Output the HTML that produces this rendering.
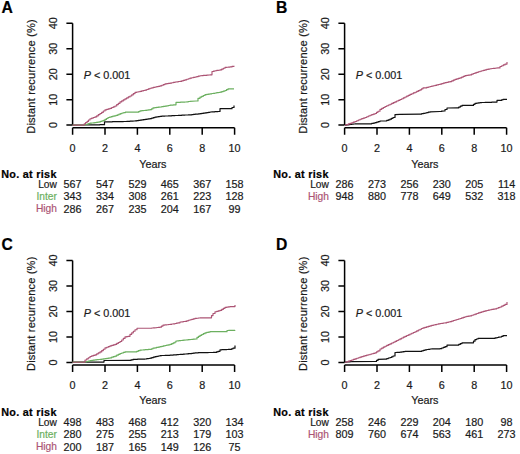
<!DOCTYPE html>
<html><head><meta charset="utf-8"><style>
html,body{margin:0;padding:0;background:#fff;}
svg{display:block;font-family:"Liberation Sans",sans-serif;}
text{stroke-width:0.2px;}
</style></head><body>
<svg width="520" height="454" viewBox="0 0 520 454">
<rect width="520" height="454" fill="#fff"/>
<g transform="translate(0,0)">
<text x="1.6" y="13.1" font-size="15.7" font-weight="bold" fill="#000" stroke="#000">A</text>
<text transform="translate(34.6,76.55) rotate(-90)" text-anchor="middle" font-size="11.1" textLength="114.4" lengthAdjust="spacing" style="stroke-width:0.2px" fill="#1a1a1a" stroke="#1a1a1a">Distant recurrence (%)</text>
<path d="M72.60 23.30V125.10M66.4 125.10H72.60M66.4 99.65H72.60M66.4 74.20H72.60M66.4 48.75H72.60M66.4 23.30H72.60" stroke="#000" stroke-width="1.5" fill="none"/>
<text transform="translate(57,125.10) rotate(-90)" text-anchor="middle" font-size="10.8" fill="#1a1a1a" stroke="#1a1a1a">0</text>
<text transform="translate(57,99.65) rotate(-90)" text-anchor="middle" font-size="10.8" fill="#1a1a1a" stroke="#1a1a1a">10</text>
<text transform="translate(57,74.20) rotate(-90)" text-anchor="middle" font-size="10.8" fill="#1a1a1a" stroke="#1a1a1a">20</text>
<text transform="translate(57,48.75) rotate(-90)" text-anchor="middle" font-size="10.8" fill="#1a1a1a" stroke="#1a1a1a">30</text>
<text transform="translate(57,23.30) rotate(-90)" text-anchor="middle" font-size="10.8" fill="#1a1a1a" stroke="#1a1a1a">40</text>
<path d="M72.60 127.8H234.60M72.60 127.8V134.8M105.00 127.8V134.8M137.40 127.8V134.8M169.80 127.8V134.8M202.20 127.8V134.8M234.60 127.8V134.8" stroke="#000" stroke-width="1.5" fill="none"/>
<text x="72.60" y="152" text-anchor="middle" font-size="10.8" fill="#1a1a1a" stroke="#1a1a1a">0</text>
<text x="105.00" y="152" text-anchor="middle" font-size="10.8" fill="#1a1a1a" stroke="#1a1a1a">2</text>
<text x="137.40" y="152" text-anchor="middle" font-size="10.8" fill="#1a1a1a" stroke="#1a1a1a">4</text>
<text x="169.80" y="152" text-anchor="middle" font-size="10.8" fill="#1a1a1a" stroke="#1a1a1a">6</text>
<text x="202.20" y="152" text-anchor="middle" font-size="10.8" fill="#1a1a1a" stroke="#1a1a1a">8</text>
<text x="234.60" y="152" text-anchor="middle" font-size="10.8" fill="#1a1a1a" stroke="#1a1a1a">10</text>
<text x="152.80" y="168.3" text-anchor="middle" font-size="10.8" fill="#1a1a1a" stroke="#1a1a1a">Years</text>
<text x="83.8" y="79.0" font-size="10.8" fill="#1a1a1a" stroke="#1a1a1a"><tspan font-style="italic">P</tspan> &lt; 0.001</text>
<text x="1.2" y="178.2" font-size="10.8" font-weight="bold" textLength="55.2" lengthAdjust="spacing" fill="#000" stroke="#000">No. at risk</text>
<text x="56.9" y="187.8" text-anchor="end" font-size="10.2" fill="#1a1a1a" stroke="#1a1a1a">Low</text>
<text x="72.60" y="187.9" text-anchor="middle" font-size="10.8" fill="#1a1a1a" stroke="#1a1a1a">567</text>
<text x="105.00" y="187.9" text-anchor="middle" font-size="10.8" fill="#1a1a1a" stroke="#1a1a1a">547</text>
<text x="137.40" y="187.9" text-anchor="middle" font-size="10.8" fill="#1a1a1a" stroke="#1a1a1a">529</text>
<text x="169.80" y="187.9" text-anchor="middle" font-size="10.8" fill="#1a1a1a" stroke="#1a1a1a">465</text>
<text x="202.20" y="187.9" text-anchor="middle" font-size="10.8" fill="#1a1a1a" stroke="#1a1a1a">367</text>
<text x="234.60" y="187.9" text-anchor="middle" font-size="10.8" fill="#1a1a1a" stroke="#1a1a1a">158</text>
<text x="56.9" y="199.9" text-anchor="end" font-size="10.2" fill="#6cb060" stroke="#6cb060">Inter</text>
<text x="72.60" y="200.2" text-anchor="middle" font-size="10.8" fill="#1a1a1a" stroke="#1a1a1a">343</text>
<text x="105.00" y="200.2" text-anchor="middle" font-size="10.8" fill="#1a1a1a" stroke="#1a1a1a">334</text>
<text x="137.40" y="200.2" text-anchor="middle" font-size="10.8" fill="#1a1a1a" stroke="#1a1a1a">308</text>
<text x="169.80" y="200.2" text-anchor="middle" font-size="10.8" fill="#1a1a1a" stroke="#1a1a1a">261</text>
<text x="202.20" y="200.2" text-anchor="middle" font-size="10.8" fill="#1a1a1a" stroke="#1a1a1a">223</text>
<text x="234.60" y="200.2" text-anchor="middle" font-size="10.8" fill="#1a1a1a" stroke="#1a1a1a">128</text>
<text x="56.9" y="212.2" text-anchor="end" font-size="10.2" fill="#ac5474" stroke="#ac5474">High</text>
<text x="72.60" y="212.9" text-anchor="middle" font-size="10.8" fill="#1a1a1a" stroke="#1a1a1a">286</text>
<text x="105.00" y="212.9" text-anchor="middle" font-size="10.8" fill="#1a1a1a" stroke="#1a1a1a">267</text>
<text x="137.40" y="212.9" text-anchor="middle" font-size="10.8" fill="#1a1a1a" stroke="#1a1a1a">235</text>
<text x="169.80" y="212.9" text-anchor="middle" font-size="10.8" fill="#1a1a1a" stroke="#1a1a1a">204</text>
<text x="202.20" y="212.9" text-anchor="middle" font-size="10.8" fill="#1a1a1a" stroke="#1a1a1a">167</text>
<text x="234.60" y="212.9" text-anchor="middle" font-size="10.8" fill="#1a1a1a" stroke="#1a1a1a">99</text>
</g>
<g transform="translate(272,0)">
<text x="4.0" y="13.1" font-size="15.7" font-weight="bold" fill="#000" stroke="#000">B</text>
<text transform="translate(34.6,76.55) rotate(-90)" text-anchor="middle" font-size="11.1" textLength="114.4" lengthAdjust="spacing" style="stroke-width:0.2px" fill="#1a1a1a" stroke="#1a1a1a">Distant recurrence (%)</text>
<path d="M72.60 23.30V125.10M66.4 125.10H72.60M66.4 99.65H72.60M66.4 74.20H72.60M66.4 48.75H72.60M66.4 23.30H72.60" stroke="#000" stroke-width="1.5" fill="none"/>
<text transform="translate(57,125.10) rotate(-90)" text-anchor="middle" font-size="10.8" fill="#1a1a1a" stroke="#1a1a1a">0</text>
<text transform="translate(57,99.65) rotate(-90)" text-anchor="middle" font-size="10.8" fill="#1a1a1a" stroke="#1a1a1a">10</text>
<text transform="translate(57,74.20) rotate(-90)" text-anchor="middle" font-size="10.8" fill="#1a1a1a" stroke="#1a1a1a">20</text>
<text transform="translate(57,48.75) rotate(-90)" text-anchor="middle" font-size="10.8" fill="#1a1a1a" stroke="#1a1a1a">30</text>
<text transform="translate(57,23.30) rotate(-90)" text-anchor="middle" font-size="10.8" fill="#1a1a1a" stroke="#1a1a1a">40</text>
<path d="M72.60 127.8H234.60M72.60 127.8V134.8M105.00 127.8V134.8M137.40 127.8V134.8M169.80 127.8V134.8M202.20 127.8V134.8M234.60 127.8V134.8" stroke="#000" stroke-width="1.5" fill="none"/>
<text x="72.60" y="152" text-anchor="middle" font-size="10.8" fill="#1a1a1a" stroke="#1a1a1a">0</text>
<text x="105.00" y="152" text-anchor="middle" font-size="10.8" fill="#1a1a1a" stroke="#1a1a1a">2</text>
<text x="137.40" y="152" text-anchor="middle" font-size="10.8" fill="#1a1a1a" stroke="#1a1a1a">4</text>
<text x="169.80" y="152" text-anchor="middle" font-size="10.8" fill="#1a1a1a" stroke="#1a1a1a">6</text>
<text x="202.20" y="152" text-anchor="middle" font-size="10.8" fill="#1a1a1a" stroke="#1a1a1a">8</text>
<text x="234.60" y="152" text-anchor="middle" font-size="10.8" fill="#1a1a1a" stroke="#1a1a1a">10</text>
<text x="152.80" y="168.0" text-anchor="middle" font-size="10.8" fill="#1a1a1a" stroke="#1a1a1a">Years</text>
<text x="83.8" y="79.3" font-size="10.8" fill="#1a1a1a" stroke="#1a1a1a"><tspan font-style="italic">P</tspan> &lt; 0.001</text>
<text x="1.2" y="178.2" font-size="10.8" font-weight="bold" textLength="55.2" lengthAdjust="spacing" fill="#000" stroke="#000">No. at risk</text>
<text x="56.9" y="187.8" text-anchor="end" font-size="10.2" fill="#1a1a1a" stroke="#1a1a1a">Low</text>
<text x="72.60" y="187.9" text-anchor="middle" font-size="10.8" fill="#1a1a1a" stroke="#1a1a1a">286</text>
<text x="105.00" y="187.9" text-anchor="middle" font-size="10.8" fill="#1a1a1a" stroke="#1a1a1a">273</text>
<text x="137.40" y="187.9" text-anchor="middle" font-size="10.8" fill="#1a1a1a" stroke="#1a1a1a">256</text>
<text x="169.80" y="187.9" text-anchor="middle" font-size="10.8" fill="#1a1a1a" stroke="#1a1a1a">230</text>
<text x="202.20" y="187.9" text-anchor="middle" font-size="10.8" fill="#1a1a1a" stroke="#1a1a1a">205</text>
<text x="234.60" y="187.9" text-anchor="middle" font-size="10.8" fill="#1a1a1a" stroke="#1a1a1a">114</text>
<text x="56.9" y="199.9" text-anchor="end" font-size="10.2" fill="#ac5474" stroke="#ac5474">High</text>
<text x="72.60" y="200.2" text-anchor="middle" font-size="10.8" fill="#1a1a1a" stroke="#1a1a1a">948</text>
<text x="105.00" y="200.2" text-anchor="middle" font-size="10.8" fill="#1a1a1a" stroke="#1a1a1a">880</text>
<text x="137.40" y="200.2" text-anchor="middle" font-size="10.8" fill="#1a1a1a" stroke="#1a1a1a">778</text>
<text x="169.80" y="200.2" text-anchor="middle" font-size="10.8" fill="#1a1a1a" stroke="#1a1a1a">649</text>
<text x="202.20" y="200.2" text-anchor="middle" font-size="10.8" fill="#1a1a1a" stroke="#1a1a1a">532</text>
<text x="234.60" y="200.2" text-anchor="middle" font-size="10.8" fill="#1a1a1a" stroke="#1a1a1a">318</text>
</g>
<g transform="translate(0,237.3)">
<text x="1.6" y="12.5" font-size="15.7" font-weight="bold" fill="#000" stroke="#000">C</text>
<text transform="translate(34.6,76.55) rotate(-90)" text-anchor="middle" font-size="11.1" textLength="114.4" lengthAdjust="spacing" style="stroke-width:0.2px" fill="#1a1a1a" stroke="#1a1a1a">Distant recurrence (%)</text>
<path d="M72.60 23.30V125.10M66.4 125.10H72.60M66.4 99.65H72.60M66.4 74.20H72.60M66.4 48.75H72.60M66.4 23.30H72.60" stroke="#000" stroke-width="1.5" fill="none"/>
<text transform="translate(57,125.10) rotate(-90)" text-anchor="middle" font-size="10.8" fill="#1a1a1a" stroke="#1a1a1a">0</text>
<text transform="translate(57,99.65) rotate(-90)" text-anchor="middle" font-size="10.8" fill="#1a1a1a" stroke="#1a1a1a">10</text>
<text transform="translate(57,74.20) rotate(-90)" text-anchor="middle" font-size="10.8" fill="#1a1a1a" stroke="#1a1a1a">20</text>
<text transform="translate(57,48.75) rotate(-90)" text-anchor="middle" font-size="10.8" fill="#1a1a1a" stroke="#1a1a1a">30</text>
<text transform="translate(57,23.30) rotate(-90)" text-anchor="middle" font-size="10.8" fill="#1a1a1a" stroke="#1a1a1a">40</text>
<path d="M72.60 127.8H234.60M72.60 127.8V134.8M105.00 127.8V134.8M137.40 127.8V134.8M169.80 127.8V134.8M202.20 127.8V134.8M234.60 127.8V134.8" stroke="#000" stroke-width="1.5" fill="none"/>
<text x="72.60" y="152" text-anchor="middle" font-size="10.8" fill="#1a1a1a" stroke="#1a1a1a">0</text>
<text x="105.00" y="152" text-anchor="middle" font-size="10.8" fill="#1a1a1a" stroke="#1a1a1a">2</text>
<text x="137.40" y="152" text-anchor="middle" font-size="10.8" fill="#1a1a1a" stroke="#1a1a1a">4</text>
<text x="169.80" y="152" text-anchor="middle" font-size="10.8" fill="#1a1a1a" stroke="#1a1a1a">6</text>
<text x="202.20" y="152" text-anchor="middle" font-size="10.8" fill="#1a1a1a" stroke="#1a1a1a">8</text>
<text x="234.60" y="152" text-anchor="middle" font-size="10.8" fill="#1a1a1a" stroke="#1a1a1a">10</text>
<text x="152.80" y="167.1" text-anchor="middle" font-size="10.8" fill="#1a1a1a" stroke="#1a1a1a">Years</text>
<text x="83.8" y="79.6" font-size="10.8" fill="#1a1a1a" stroke="#1a1a1a"><tspan font-style="italic">P</tspan> &lt; 0.001</text>
<text x="1.2" y="178.8" font-size="10.8" font-weight="bold" textLength="55.2" lengthAdjust="spacing" fill="#000" stroke="#000">No. at risk</text>
<text x="56.9" y="188.4" text-anchor="end" font-size="10.2" fill="#1a1a1a" stroke="#1a1a1a">Low</text>
<text x="72.60" y="188.5" text-anchor="middle" font-size="10.8" fill="#1a1a1a" stroke="#1a1a1a">498</text>
<text x="105.00" y="188.5" text-anchor="middle" font-size="10.8" fill="#1a1a1a" stroke="#1a1a1a">483</text>
<text x="137.40" y="188.5" text-anchor="middle" font-size="10.8" fill="#1a1a1a" stroke="#1a1a1a">468</text>
<text x="169.80" y="188.5" text-anchor="middle" font-size="10.8" fill="#1a1a1a" stroke="#1a1a1a">412</text>
<text x="202.20" y="188.5" text-anchor="middle" font-size="10.8" fill="#1a1a1a" stroke="#1a1a1a">320</text>
<text x="234.60" y="188.5" text-anchor="middle" font-size="10.8" fill="#1a1a1a" stroke="#1a1a1a">134</text>
<text x="56.9" y="200.5" text-anchor="end" font-size="10.2" fill="#6cb060" stroke="#6cb060">Inter</text>
<text x="72.60" y="200.8" text-anchor="middle" font-size="10.8" fill="#1a1a1a" stroke="#1a1a1a">280</text>
<text x="105.00" y="200.8" text-anchor="middle" font-size="10.8" fill="#1a1a1a" stroke="#1a1a1a">275</text>
<text x="137.40" y="200.8" text-anchor="middle" font-size="10.8" fill="#1a1a1a" stroke="#1a1a1a">255</text>
<text x="169.80" y="200.8" text-anchor="middle" font-size="10.8" fill="#1a1a1a" stroke="#1a1a1a">213</text>
<text x="202.20" y="200.8" text-anchor="middle" font-size="10.8" fill="#1a1a1a" stroke="#1a1a1a">179</text>
<text x="234.60" y="200.8" text-anchor="middle" font-size="10.8" fill="#1a1a1a" stroke="#1a1a1a">103</text>
<text x="56.9" y="212.8" text-anchor="end" font-size="10.2" fill="#ac5474" stroke="#ac5474">High</text>
<text x="72.60" y="213.5" text-anchor="middle" font-size="10.8" fill="#1a1a1a" stroke="#1a1a1a">200</text>
<text x="105.00" y="213.5" text-anchor="middle" font-size="10.8" fill="#1a1a1a" stroke="#1a1a1a">187</text>
<text x="137.40" y="213.5" text-anchor="middle" font-size="10.8" fill="#1a1a1a" stroke="#1a1a1a">165</text>
<text x="169.80" y="213.5" text-anchor="middle" font-size="10.8" fill="#1a1a1a" stroke="#1a1a1a">149</text>
<text x="202.20" y="213.5" text-anchor="middle" font-size="10.8" fill="#1a1a1a" stroke="#1a1a1a">126</text>
<text x="234.60" y="213.5" text-anchor="middle" font-size="10.8" fill="#1a1a1a" stroke="#1a1a1a">75</text>
</g>
<g transform="translate(272,237.3)">
<text x="4.0" y="12.5" font-size="15.7" font-weight="bold" fill="#000" stroke="#000">D</text>
<text transform="translate(34.6,76.55) rotate(-90)" text-anchor="middle" font-size="11.1" textLength="114.4" lengthAdjust="spacing" style="stroke-width:0.2px" fill="#1a1a1a" stroke="#1a1a1a">Distant recurrence (%)</text>
<path d="M72.60 23.30V125.10M66.4 125.10H72.60M66.4 99.65H72.60M66.4 74.20H72.60M66.4 48.75H72.60M66.4 23.30H72.60" stroke="#000" stroke-width="1.5" fill="none"/>
<text transform="translate(57,125.10) rotate(-90)" text-anchor="middle" font-size="10.8" fill="#1a1a1a" stroke="#1a1a1a">0</text>
<text transform="translate(57,99.65) rotate(-90)" text-anchor="middle" font-size="10.8" fill="#1a1a1a" stroke="#1a1a1a">10</text>
<text transform="translate(57,74.20) rotate(-90)" text-anchor="middle" font-size="10.8" fill="#1a1a1a" stroke="#1a1a1a">20</text>
<text transform="translate(57,48.75) rotate(-90)" text-anchor="middle" font-size="10.8" fill="#1a1a1a" stroke="#1a1a1a">30</text>
<text transform="translate(57,23.30) rotate(-90)" text-anchor="middle" font-size="10.8" fill="#1a1a1a" stroke="#1a1a1a">40</text>
<path d="M72.60 127.8H234.60M72.60 127.8V134.8M105.00 127.8V134.8M137.40 127.8V134.8M169.80 127.8V134.8M202.20 127.8V134.8M234.60 127.8V134.8" stroke="#000" stroke-width="1.5" fill="none"/>
<text x="72.60" y="152" text-anchor="middle" font-size="10.8" fill="#1a1a1a" stroke="#1a1a1a">0</text>
<text x="105.00" y="152" text-anchor="middle" font-size="10.8" fill="#1a1a1a" stroke="#1a1a1a">2</text>
<text x="137.40" y="152" text-anchor="middle" font-size="10.8" fill="#1a1a1a" stroke="#1a1a1a">4</text>
<text x="169.80" y="152" text-anchor="middle" font-size="10.8" fill="#1a1a1a" stroke="#1a1a1a">6</text>
<text x="202.20" y="152" text-anchor="middle" font-size="10.8" fill="#1a1a1a" stroke="#1a1a1a">8</text>
<text x="234.60" y="152" text-anchor="middle" font-size="10.8" fill="#1a1a1a" stroke="#1a1a1a">10</text>
<text x="152.80" y="167.1" text-anchor="middle" font-size="10.8" fill="#1a1a1a" stroke="#1a1a1a">Years</text>
<text x="83.8" y="79.6" font-size="10.8" fill="#1a1a1a" stroke="#1a1a1a"><tspan font-style="italic">P</tspan> &lt; 0.001</text>
<text x="1.2" y="178.8" font-size="10.8" font-weight="bold" textLength="55.2" lengthAdjust="spacing" fill="#000" stroke="#000">No. at risk</text>
<text x="56.9" y="188.4" text-anchor="end" font-size="10.2" fill="#1a1a1a" stroke="#1a1a1a">Low</text>
<text x="72.60" y="188.5" text-anchor="middle" font-size="10.8" fill="#1a1a1a" stroke="#1a1a1a">258</text>
<text x="105.00" y="188.5" text-anchor="middle" font-size="10.8" fill="#1a1a1a" stroke="#1a1a1a">246</text>
<text x="137.40" y="188.5" text-anchor="middle" font-size="10.8" fill="#1a1a1a" stroke="#1a1a1a">229</text>
<text x="169.80" y="188.5" text-anchor="middle" font-size="10.8" fill="#1a1a1a" stroke="#1a1a1a">204</text>
<text x="202.20" y="188.5" text-anchor="middle" font-size="10.8" fill="#1a1a1a" stroke="#1a1a1a">180</text>
<text x="234.60" y="188.5" text-anchor="middle" font-size="10.8" fill="#1a1a1a" stroke="#1a1a1a">98</text>
<text x="56.9" y="200.5" text-anchor="end" font-size="10.2" fill="#ac5474" stroke="#ac5474">High</text>
<text x="72.60" y="200.8" text-anchor="middle" font-size="10.8" fill="#1a1a1a" stroke="#1a1a1a">809</text>
<text x="105.00" y="200.8" text-anchor="middle" font-size="10.8" fill="#1a1a1a" stroke="#1a1a1a">760</text>
<text x="137.40" y="200.8" text-anchor="middle" font-size="10.8" fill="#1a1a1a" stroke="#1a1a1a">674</text>
<text x="169.80" y="200.8" text-anchor="middle" font-size="10.8" fill="#1a1a1a" stroke="#1a1a1a">563</text>
<text x="202.20" y="200.8" text-anchor="middle" font-size="10.8" fill="#1a1a1a" stroke="#1a1a1a">461</text>
<text x="234.60" y="200.8" text-anchor="middle" font-size="10.8" fill="#1a1a1a" stroke="#1a1a1a">273</text>
</g>
<path d="M72.5 125.1 L74.1 125.1 L74.1 125.1 L75.7 125.1 L75.7 125.1 L77.3 125.1 L77.3 125.0 L78.9 125.0 L78.9 125.0 L80.5 125.0 L80.5 125.0 L82.1 125.0 L82.1 125.0 L83.7 125.0 L83.7 125.0 L85.3 125.0 L85.3 124.9 L86.9 124.9 L86.9 124.9 L88.6 124.9 L88.6 124.9 L90.2 124.9 L90.2 124.9 L91.8 124.9 L91.8 124.8 L93.4 124.8 L93.4 124.8 L95.0 124.8 L95.0 124.8 L96.6 124.8 L96.6 124.8 L98.2 124.8 L98.2 124.8 L99.8 124.8 L99.8 124.7 L101.4 124.7 L101.4 124.7 L103.0 124.7 L103.0 124.7 L104.5 124.7 L104.5 121.9 L106.1 121.9 L106.1 121.9 L107.7 121.9 L107.7 121.8 L109.2 121.8 L109.2 121.8 L110.8 121.8 L110.8 121.8 L112.4 121.8 L112.4 121.7 L114.0 121.7 L114.0 121.7 L115.5 121.7 L115.5 121.7 L117.1 121.7 L117.1 121.7 L118.7 121.7 L118.7 121.6 L120.3 121.6 L120.3 121.6 L121.8 121.6 L121.8 121.6 L123.4 121.6 L123.4 121.5 L125.0 121.5 L125.0 121.5 L126.7 121.5 L126.7 121.4 L128.3 121.4 L128.3 121.3 L130.0 121.3 L130.0 121.2 L131.7 121.2 L131.7 121.1 L133.3 121.1 L133.3 121.0 L135.0 121.0 L135.0 120.9 L136.7 120.9 L136.7 120.7 L138.3 120.7 L138.3 120.4 L140.0 120.4 L140.0 120.2 L141.7 120.2 L141.7 119.9 L143.3 119.9 L143.3 119.7 L145.0 119.7 L145.0 119.4 L146.7 119.4 L146.7 119.1 L148.3 119.1 L148.3 118.9 L150.0 118.9 L150.0 118.6 L151.7 118.6 L151.7 118.1 L153.3 118.1 L153.3 117.6 L155.0 117.6 L155.0 117.1 L156.7 117.1 L156.7 116.8 L158.3 116.8 L158.3 116.6 L160.0 116.6 L160.0 116.3 L161.7 116.3 L161.7 116.2 L163.3 116.2 L163.3 116.1 L165.0 116.1 L165.0 116.0 L166.7 116.0 L166.7 116.0 L168.3 116.0 L168.3 115.9 L170.0 115.9 L170.0 115.8 L171.7 115.8 L171.7 115.7 L173.3 115.7 L173.3 115.6 L175.0 115.6 L175.0 115.5 L176.7 115.5 L176.7 115.5 L178.3 115.5 L178.3 115.4 L180.0 115.4 L180.0 115.3 L181.7 115.3 L181.7 115.2 L183.3 115.2 L183.3 115.1 L185.0 115.1 L185.0 115.0 L186.7 115.0 L186.7 115.0 L188.3 115.0 L188.3 114.9 L190.0 114.9 L190.0 114.8 L191.7 114.8 L191.7 114.6 L193.3 114.6 L193.3 114.4 L195.0 114.4 L195.0 114.2 L196.7 114.2 L196.7 114.1 L198.3 114.1 L198.3 113.9 L200.0 113.9 L200.0 113.7 L201.7 113.7 L201.7 113.4 L203.3 113.4 L203.3 113.2 L205.0 113.2 L205.0 112.9 L206.7 112.9 L206.7 112.6 L208.3 112.6 L208.3 112.3 L210.0 112.3 L210.0 112.0 L211.6 112.0 L211.6 111.9 L213.2 111.9 L213.2 111.8 L214.8 111.8 L214.8 111.7 L216.4 111.7 L216.4 111.6 L218.0 111.6 L218.0 111.5 L220.0 111.5 L220.0 108.7 L230.0 108.7 L232.0 108.7 L232.0 107.5 L234.0 107.5 L234.0 105.4" stroke="#111111" stroke-width="1.2" fill="none" stroke-linejoin="round"/>
<path d="M72.5 125.1 L84.0 125.0 L85.5 125.0 L85.5 124.5 L87.0 124.5 L87.0 124.1 L88.5 124.1 L88.5 123.7 L90.0 123.7 L90.0 123.2 L91.5 123.2 L91.5 123.0 L93.1 123.0 L93.1 122.8 L94.6 122.8 L94.6 122.6 L96.2 122.6 L96.2 122.4 L97.7 122.4 L97.7 122.2 L99.2 122.2 L99.2 121.8 L100.6 121.8 L100.6 121.3 L102.0 121.3 L102.0 120.9 L103.5 120.9 L103.5 120.4 L105.0 120.4 L105.0 119.4 L106.5 119.4 L106.5 118.5 L108.0 118.5 L108.0 117.5 L109.6 117.5 L109.6 117.1 L111.2 117.1 L111.2 116.7 L112.8 116.7 L112.8 116.2 L114.4 116.2 L114.4 115.8 L116.0 115.8 L116.0 115.4 L117.5 115.4 L117.5 114.8 L119.0 114.8 L119.0 114.2 L120.5 114.2 L120.5 113.6 L122.0 113.6 L122.0 113.0 L123.7 113.0 L123.7 112.6 L125.4 112.6 L125.4 112.2 L135.0 112.2 L137.0 112.2 L138.5 112.2 L138.5 111.6 L140.0 111.6 L140.0 110.9 L141.7 110.9 L141.7 110.7 L143.3 110.7 L143.3 110.5 L145.0 110.5 L145.0 110.3 L146.7 110.3 L146.7 110.1 L148.3 110.1 L148.3 109.9 L150.0 109.9 L150.0 109.7 L151.5 109.7 L151.5 108.8 L153.0 108.8 L153.0 107.8 L154.8 107.8 L154.8 107.6 L156.5 107.6 L156.5 107.4 L158.2 107.4 L158.2 107.2 L160.0 107.2 L160.0 107.0 L161.7 107.0 L161.7 106.7 L163.3 106.7 L163.3 106.4 L165.0 106.4 L165.0 106.1 L166.7 106.1 L166.7 105.8 L168.3 105.8 L168.3 105.5 L170.0 105.5 L170.0 105.2 L171.7 105.2 L171.7 105.1 L173.3 105.1 L173.3 104.9 L175.0 104.9 L175.0 104.8 L176.0 104.8 L176.0 102.4 L177.5 102.4 L177.5 102.3 L179.0 102.3 L179.0 102.3 L180.5 102.3 L180.5 102.2 L182.0 102.2 L182.0 102.1 L183.5 102.1 L183.5 102.1 L185.0 102.1 L185.0 102.0 L186.7 102.0 L186.7 101.8 L188.3 101.8 L188.3 101.5 L190.0 101.5 L190.0 101.3 L196.0 101.0 L198.0 101.0 L198.0 98.3 L200.0 98.3 L200.0 97.1 L201.7 97.1 L201.7 96.3 L203.3 96.3 L203.3 95.5 L205.0 95.5 L205.0 94.7 L206.7 94.7 L206.7 94.4 L208.3 94.4 L208.3 94.1 L210.0 94.1 L210.0 93.8 L211.7 93.8 L211.7 93.5 L213.3 93.5 L213.3 93.3 L215.0 93.3 L215.0 93.0 L216.7 93.0 L216.7 92.7 L218.3 92.7 L218.3 92.5 L220.0 92.5 L220.0 92.2 L221.7 92.2 L221.7 91.6 L223.3 91.6 L223.3 91.1 L225.0 91.1 L225.0 90.5 L226.5 90.5 L226.5 89.7 L228.0 89.7 L228.0 88.9 L234.0 88.9" stroke="#6cb060" stroke-width="1.2" fill="none" stroke-linejoin="round"/>
<path d="M72.5 125.1 L82.7 125.1 L84.2 125.1 L84.2 123.8 L85.6 123.8 L85.6 122.5 L87.1 122.5 L87.1 121.3 L88.5 121.3 L88.5 120.0 L90.0 120.0 L90.0 118.7 L91.7 118.7 L91.7 118.1 L93.3 118.1 L93.3 117.5 L95.0 117.5 L95.0 116.9 L96.7 116.9 L96.7 115.8 L98.3 115.8 L98.3 114.6 L100.0 114.6 L100.0 113.5 L101.7 113.5 L101.7 112.3 L103.3 112.3 L103.3 111.0 L105.0 111.0 L105.0 109.8 L106.7 109.8 L106.7 109.3 L108.3 109.3 L108.3 108.8 L110.0 108.8 L110.0 108.3 L111.7 108.3 L111.7 107.5 L113.3 107.5 L113.3 106.8 L115.0 106.8 L115.0 106.0 L116.7 106.0 L116.7 104.6 L118.3 104.6 L118.3 103.3 L120.0 103.3 L120.0 101.9 L121.7 101.9 L121.7 100.9 L123.3 100.9 L123.3 99.8 L125.0 99.8 L125.0 98.8 L126.7 98.8 L126.7 97.9 L128.3 97.9 L128.3 96.9 L130.0 96.9 L130.0 96.0 L131.7 96.0 L131.7 94.8 L133.3 94.8 L133.3 93.6 L135.0 93.6 L135.0 92.4 L136.7 92.4 L136.7 92.0 L138.3 92.0 L138.3 91.7 L140.0 91.7 L140.0 91.3 L141.7 91.3 L141.7 90.9 L143.3 90.9 L143.3 90.5 L145.0 90.5 L145.0 90.1 L146.7 90.1 L146.7 89.5 L148.3 89.5 L148.3 88.8 L150.0 88.8 L150.0 88.2 L151.7 88.2 L151.7 87.8 L153.3 87.8 L153.3 87.4 L155.0 87.4 L155.0 87.0 L156.7 87.0 L156.7 86.6 L158.3 86.6 L158.3 86.3 L160.0 86.3 L160.0 85.9 L161.7 85.9 L161.7 85.2 L163.3 85.2 L163.3 84.6 L165.0 84.6 L165.0 83.9 L166.7 83.9 L166.7 83.6 L168.3 83.6 L168.3 83.4 L170.0 83.4 L170.0 83.1 L171.7 83.1 L171.7 82.7 L173.3 82.7 L173.3 82.4 L175.0 82.4 L175.0 82.0 L176.7 82.0 L176.7 81.8 L178.3 81.8 L178.3 81.5 L180.0 81.5 L180.0 81.3 L181.7 81.3 L181.7 80.8 L183.3 80.8 L183.3 80.3 L185.0 80.3 L185.0 79.8 L186.7 79.8 L186.7 79.2 L188.3 79.2 L188.3 78.7 L190.0 78.7 L190.0 78.1 L191.7 78.1 L191.7 77.7 L193.3 77.7 L193.3 77.4 L195.0 77.4 L195.0 77.0 L196.7 77.0 L196.7 76.6 L198.3 76.6 L198.3 76.1 L200.0 76.1 L200.0 75.7 L201.7 75.7 L201.7 75.6 L203.3 75.6 L203.3 75.4 L205.0 75.4 L205.0 75.3 L206.7 75.3 L206.7 75.1 L208.3 75.1 L208.3 75.0 L210.0 75.0 L210.0 74.8 L212.0 74.8 L212.0 71.5 L213.5 71.5 L213.5 71.1 L215.0 71.1 L215.0 70.7 L216.7 70.7 L216.7 70.4 L218.3 70.4 L218.3 70.2 L220.0 70.2 L220.0 69.9 L221.7 69.9 L221.7 69.1 L223.3 69.1 L223.3 68.2 L225.0 68.2 L225.0 67.4 L226.7 67.4 L226.7 67.2 L228.3 67.2 L228.3 67.1 L230.0 67.1 L230.0 66.9 L232.0 66.9 L232.0 66.3 L234.0 66.3 L234.0 65.7" stroke="#ac5474" stroke-width="1.15" fill="none" stroke-linejoin="round"/>
<path d="M345.0 125.1 L346.7 125.1 L346.7 124.9 L348.3 124.9 L348.3 124.6 L350.0 124.6 L350.0 124.4 L351.7 124.4 L351.7 124.2 L353.3 124.2 L353.3 124.0 L355.0 124.0 L355.0 123.8 L370.0 123.8 L371.7 123.8 L371.7 123.4 L373.3 123.4 L373.3 123.1 L375.0 123.1 L375.0 122.7 L376.7 122.7 L376.7 122.1 L378.3 122.1 L378.3 121.6 L380.0 121.6 L380.0 121.0 L385.0 121.0 L386.7 121.0 L386.7 120.4 L388.3 120.4 L388.3 119.8 L390.0 119.8 L390.0 119.2 L391.5 119.2 L391.5 118.3 L393.0 118.3 L393.0 117.5 L395.0 117.5 L395.0 114.6 L400.0 114.3 L420.0 114.1 L421.7 114.1 L421.7 113.7 L423.3 113.7 L423.3 113.4 L425.0 113.4 L425.0 113.0 L426.7 113.0 L426.7 112.6 L428.3 112.6 L428.3 112.2 L430.0 112.2 L430.0 111.8 L440.0 111.5 L441.5 111.5 L441.5 111.2 L443.0 111.2 L443.0 111.0 L445.0 111.0 L445.0 109.5 L447.0 109.5 L447.0 108.0 L457.0 107.9 L458.7 107.9 L458.7 107.1 L460.3 107.1 L460.3 106.2 L462.0 106.2 L462.0 105.4 L472.0 105.4 L473.5 105.4 L473.5 104.3 L475.0 104.3 L475.0 103.3 L476.7 103.3 L476.7 103.1 L478.3 103.1 L478.3 102.8 L480.0 102.8 L480.0 102.6 L481.7 102.6 L481.7 102.5 L483.3 102.5 L483.3 102.5 L485.0 102.5 L485.0 102.4 L486.7 102.4 L486.7 102.4 L488.3 102.4 L488.3 102.3 L490.0 102.3 L490.0 102.3 L491.7 102.3 L491.7 102.2 L493.3 102.2 L493.3 102.2 L495.0 102.2 L495.0 102.1 L497.0 102.1 L497.0 100.4 L500.0 100.4 L501.5 100.4 L501.5 99.8 L503.0 99.8 L503.0 99.3 L507.0 99.3" stroke="#111111" stroke-width="1.2" fill="none" stroke-linejoin="round"/>
<path d="M345.0 125.1 L346.7 125.1 L346.7 124.5 L348.3 124.5 L348.3 123.9 L350.0 123.9 L350.0 123.3 L351.7 123.3 L351.7 122.7 L353.3 122.7 L353.3 122.1 L355.0 122.1 L355.0 121.5 L356.7 121.5 L356.7 120.7 L358.3 120.7 L358.3 120.0 L360.0 120.0 L360.0 119.2 L361.7 119.2 L361.7 118.6 L363.3 118.6 L363.3 118.1 L365.0 118.1 L365.0 117.5 L366.7 117.5 L366.7 116.7 L368.3 116.7 L368.3 116.0 L370.0 116.0 L370.0 115.2 L371.7 115.2 L371.7 114.6 L373.3 114.6 L373.3 114.1 L375.0 114.1 L375.0 113.5 L376.5 113.5 L376.5 112.3 L378.0 112.3 L378.0 111.2 L380.0 111.2 L380.0 109.4 L381.7 109.4 L381.7 108.4 L383.3 108.4 L383.3 107.5 L385.0 107.5 L385.0 106.5 L386.7 106.5 L386.7 105.7 L388.3 105.7 L388.3 105.0 L390.0 105.0 L390.0 104.2 L391.7 104.2 L391.7 103.4 L393.3 103.4 L393.3 102.6 L395.0 102.6 L395.0 101.8 L396.7 101.8 L396.7 101.0 L398.3 101.0 L398.3 100.3 L400.0 100.3 L400.0 99.5 L401.7 99.5 L401.7 98.7 L403.3 98.7 L403.3 97.8 L405.0 97.8 L405.0 97.0 L406.7 97.0 L406.7 96.1 L408.3 96.1 L408.3 95.3 L410.0 95.3 L410.0 94.4 L411.7 94.4 L411.7 93.7 L413.3 93.7 L413.3 92.9 L415.0 92.9 L415.0 92.2 L416.7 92.2 L416.7 91.4 L418.3 91.4 L418.3 90.6 L420.0 90.6 L420.0 89.8 L421.5 89.8 L421.5 88.8 L423.0 88.8 L423.0 87.9 L425.0 87.9 L426.7 87.9 L426.7 87.4 L428.3 87.4 L428.3 87.0 L430.0 87.0 L430.0 86.5 L431.7 86.5 L431.7 86.1 L433.3 86.1 L433.3 85.7 L435.0 85.7 L435.0 85.3 L436.7 85.3 L436.7 84.9 L438.3 84.9 L438.3 84.5 L440.0 84.5 L440.0 84.1 L441.7 84.1 L441.7 83.6 L443.3 83.6 L443.3 83.1 L445.0 83.1 L445.0 82.6 L446.7 82.6 L446.7 82.3 L448.3 82.3 L448.3 81.9 L450.0 81.9 L450.0 81.6 L451.7 81.6 L451.7 80.9 L453.3 80.9 L453.3 80.1 L455.0 80.1 L455.0 79.4 L456.7 79.4 L456.7 78.9 L458.3 78.9 L458.3 78.3 L460.0 78.3 L460.0 77.8 L461.7 77.8 L461.7 77.1 L463.3 77.1 L463.3 76.3 L465.0 76.3 L465.0 75.6 L466.7 75.6 L466.7 75.3 L468.3 75.3 L468.3 75.1 L470.0 75.1 L470.0 74.8 L471.7 74.8 L471.7 74.1 L473.3 74.1 L473.3 73.5 L475.0 73.5 L475.0 72.8 L476.7 72.8 L476.7 72.3 L478.3 72.3 L478.3 71.7 L480.0 71.7 L480.0 71.2 L481.7 71.2 L481.7 70.7 L483.3 70.7 L483.3 70.3 L485.0 70.3 L485.0 69.8 L486.7 69.8 L486.7 69.4 L488.3 69.4 L488.3 69.1 L490.0 69.1 L490.0 68.7 L491.7 68.7 L491.7 68.5 L493.3 68.5 L493.3 68.4 L495.0 68.4 L495.0 68.2 L498.0 67.9 L500.0 67.9 L500.0 66.5 L501.7 66.5 L501.7 65.7 L503.3 65.7 L503.3 64.9 L505.0 64.9 L505.0 64.1 L507.0 64.1 L507.0 62.1" stroke="#ac5474" stroke-width="1.15" fill="none" stroke-linejoin="round"/>
<path d="M72.5 362.2 L102.0 362.1 L104.0 362.1 L104.0 360.5 L129.0 360.4 L131.0 360.4 L131.0 359.9 L133.0 359.9 L133.0 359.4 L134.5 359.4 L134.5 359.3 L136.0 359.3 L136.0 359.3 L137.5 359.3 L137.5 359.2 L139.0 359.2 L139.0 359.2 L140.5 359.2 L140.5 359.1 L142.0 359.1 L142.0 359.1 L143.5 359.1 L143.5 359.1 L145.0 359.1 L145.0 359.0 L146.7 359.0 L146.7 358.7 L148.3 358.7 L148.3 358.5 L150.0 358.5 L150.0 358.2 L151.7 358.2 L151.7 357.7 L153.3 357.7 L153.3 357.2 L155.0 357.2 L155.0 356.7 L156.7 356.7 L156.7 356.3 L158.3 356.3 L158.3 356.0 L160.0 356.0 L160.0 355.6 L161.7 355.6 L161.7 355.5 L163.3 355.5 L163.3 355.5 L165.0 355.5 L165.0 355.4 L166.7 355.4 L166.7 355.3 L168.3 355.3 L168.3 355.3 L170.0 355.3 L170.0 355.2 L171.7 355.2 L171.7 355.1 L173.3 355.1 L173.3 354.9 L175.0 354.9 L175.0 354.8 L176.7 354.8 L176.7 354.7 L178.3 354.7 L178.3 354.5 L180.0 354.5 L180.0 354.4 L181.7 354.4 L181.7 354.3 L183.3 354.3 L183.3 354.1 L185.0 354.1 L185.0 354.0 L186.7 354.0 L186.7 353.9 L188.3 353.9 L188.3 353.7 L190.0 353.7 L190.0 353.6 L191.7 353.6 L191.7 353.3 L193.3 353.3 L193.3 353.1 L195.0 353.1 L195.0 352.8 L196.7 352.8 L196.7 352.8 L198.3 352.8 L198.3 352.7 L200.0 352.7 L200.0 352.7 L201.7 352.7 L201.7 352.7 L203.3 352.7 L203.3 352.6 L205.0 352.6 L205.0 352.6 L206.7 352.6 L206.7 352.6 L208.3 352.6 L208.3 352.5 L210.0 352.5 L210.0 352.5 L211.7 352.5 L211.7 352.5 L213.3 352.5 L213.3 352.4 L215.0 352.4 L215.0 352.4 L216.5 352.4 L216.5 351.9 L218.0 351.9 L218.0 351.3 L220.0 351.3 L220.0 349.8 L221.7 349.8 L221.7 349.7 L223.3 349.7 L223.3 349.6 L225.0 349.6 L225.0 349.6 L226.7 349.6 L226.7 349.5 L228.3 349.5 L228.3 349.4 L230.0 349.4 L230.0 349.3 L231.5 349.3 L231.5 348.8 L233.0 348.8 L233.0 348.2 L235.0 348.2 L235.0 345.6" stroke="#111111" stroke-width="1.2" fill="none" stroke-linejoin="round"/>
<path d="M72.5 362.2 L84.5 362.0 L86.3 362.0 L86.3 361.5 L88.2 361.5 L88.2 361.1 L90.0 361.1 L90.0 360.6 L91.7 360.6 L91.7 360.3 L93.3 360.3 L93.3 360.1 L95.0 360.1 L95.0 359.8 L96.7 359.8 L96.7 359.7 L98.3 359.7 L98.3 359.5 L100.0 359.5 L100.0 359.4 L101.7 359.4 L101.7 359.2 L103.3 359.2 L103.3 358.9 L105.0 358.9 L105.0 358.7 L106.7 358.7 L106.7 358.4 L108.3 358.4 L108.3 358.1 L110.0 358.1 L110.0 357.8 L111.7 357.8 L111.7 357.2 L113.3 357.2 L113.3 356.7 L115.0 356.7 L115.0 356.1 L116.7 356.1 L116.7 355.2 L118.3 355.2 L118.3 354.4 L120.0 354.4 L120.0 353.5 L121.7 353.5 L121.7 353.0 L123.3 353.0 L123.3 352.4 L125.0 352.4 L125.0 351.9 L135.0 351.9 L136.7 351.9 L136.7 351.3 L138.3 351.3 L138.3 350.7 L140.0 350.7 L140.0 350.1 L141.7 350.1 L141.7 350.0 L143.3 350.0 L143.3 349.8 L145.0 349.8 L145.0 349.7 L146.7 349.7 L146.7 349.6 L148.3 349.6 L148.3 349.4 L150.0 349.4 L150.0 349.3 L151.5 349.3 L151.5 348.8 L153.0 348.8 L153.0 348.2 L154.8 348.2 L154.8 347.8 L156.5 347.8 L156.5 347.4 L158.2 347.4 L158.2 347.1 L160.0 347.1 L160.0 346.7 L161.7 346.7 L161.7 346.3 L163.3 346.3 L163.3 345.9 L165.0 345.9 L165.0 345.5 L166.7 345.5 L166.7 345.2 L168.3 345.2 L168.3 344.8 L170.0 344.8 L170.0 344.4 L171.7 344.4 L171.7 343.6 L173.3 343.6 L173.3 342.8 L175.0 342.8 L175.0 342.0 L176.0 342.0 L176.0 341.0 L177.5 341.0 L177.5 340.8 L179.0 340.8 L179.0 340.7 L180.5 340.7 L180.5 340.5 L182.0 340.5 L182.0 340.3 L183.5 340.3 L183.5 340.2 L185.0 340.2 L185.0 340.0 L186.7 340.0 L186.7 339.8 L188.3 339.8 L188.3 339.7 L190.0 339.7 L190.0 339.5 L191.7 339.5 L191.7 339.3 L193.3 339.3 L193.3 339.2 L195.0 339.2 L195.0 339.0 L197.0 339.0 L197.0 337.4 L198.5 337.4 L198.5 336.4 L200.0 336.4 L200.0 335.4 L201.7 335.4 L201.7 334.5 L203.3 334.5 L203.3 333.7 L205.0 333.7 L205.0 332.8 L206.7 332.8 L206.7 332.4 L208.3 332.4 L208.3 332.1 L210.0 332.1 L210.0 331.7 L225.0 331.7 L227.0 331.7 L227.0 330.5 L228.6 330.5 L228.6 330.4 L230.2 330.4 L230.2 330.4 L231.8 330.4 L231.8 330.3 L233.4 330.3 L233.4 330.3 L235.0 330.3 L235.0 330.2" stroke="#6cb060" stroke-width="1.2" fill="none" stroke-linejoin="round"/>
<path d="M72.5 362.2 L83.8 362.1 L85.0 362.1 L85.0 360.0 L86.7 360.0 L86.7 358.8 L88.3 358.8 L88.3 357.7 L90.0 357.7 L90.0 356.5 L91.7 356.5 L91.7 355.9 L93.3 355.9 L93.3 355.4 L95.0 355.4 L95.0 354.8 L96.7 354.8 L96.7 353.8 L98.3 353.8 L98.3 352.9 L100.0 352.9 L100.0 351.9 L101.7 351.9 L101.7 350.6 L103.3 350.6 L103.3 349.2 L105.0 349.2 L105.0 347.9 L106.7 347.9 L106.7 347.2 L108.3 347.2 L108.3 346.6 L110.0 346.6 L110.0 345.9 L111.7 345.9 L111.7 345.4 L113.3 345.4 L113.3 344.9 L115.0 344.9 L115.0 344.4 L116.7 344.4 L116.7 343.4 L118.3 343.4 L118.3 342.5 L120.0 342.5 L120.0 341.5 L121.7 341.5 L121.7 340.0 L123.3 340.0 L123.3 338.4 L125.0 338.4 L125.0 336.9 L126.5 336.9 L126.5 336.6 L128.0 336.6 L128.0 336.3 L130.0 336.3 L130.0 334.3 L131.7 334.3 L131.7 332.8 L133.3 332.8 L133.3 331.2 L135.0 331.2 L135.0 329.7 L137.0 329.7 L137.0 328.2 L150.0 328.2 L151.7 328.2 L151.7 328.0 L153.3 328.0 L153.3 327.9 L155.0 327.9 L155.0 327.7 L156.7 327.7 L156.7 327.5 L158.3 327.5 L158.3 327.3 L160.0 327.3 L160.0 327.1 L161.5 327.1 L161.5 326.1 L163.0 326.1 L163.0 325.1 L164.8 325.1 L164.8 324.9 L166.5 324.9 L166.5 324.7 L168.2 324.7 L168.2 324.5 L170.0 324.5 L170.0 324.3 L171.7 324.3 L171.7 324.0 L173.3 324.0 L173.3 323.8 L175.0 323.8 L175.0 323.5 L176.5 323.5 L176.5 323.1 L178.0 323.1 L178.0 322.8 L180.0 322.8 L180.0 322.0 L181.7 322.0 L181.7 321.8 L183.3 321.8 L183.3 321.5 L185.0 321.5 L185.0 321.3 L186.7 321.3 L186.7 320.8 L188.3 320.8 L188.3 320.2 L190.0 320.2 L190.0 319.7 L191.7 319.7 L191.7 319.3 L193.3 319.3 L193.3 318.8 L195.0 318.8 L195.0 318.4 L196.7 318.4 L196.7 318.2 L198.3 318.2 L198.3 318.0 L200.0 318.0 L200.0 317.8 L210.0 317.8 L211.5 317.8 L211.5 315.6 L213.0 315.6 L213.0 313.5 L215.0 313.5 L215.0 311.7 L216.7 311.7 L216.7 311.3 L218.3 311.3 L218.3 310.8 L220.0 310.8 L220.0 310.4 L221.7 310.4 L221.7 309.4 L223.3 309.4 L223.3 308.3 L225.0 308.3 L225.0 307.3 L226.7 307.3 L226.7 307.1 L228.3 307.1 L228.3 306.8 L230.0 306.8 L230.0 306.6 L233.0 306.6 L235.0 306.6 L235.0 305.0" stroke="#ac5474" stroke-width="1.15" fill="none" stroke-linejoin="round"/>
<path d="M345.0 362.2 L346.7 362.2 L346.7 362.0 L348.3 362.0 L348.3 361.9 L350.0 361.9 L350.0 361.7 L375.0 361.5 L376.5 361.5 L376.5 360.4 L378.0 360.4 L378.0 359.4 L385.0 359.1 L386.7 359.1 L386.7 358.6 L388.3 358.6 L388.3 358.0 L390.0 358.0 L390.0 357.5 L391.5 357.5 L391.5 356.8 L393.0 356.8 L393.0 356.0 L395.0 356.0 L395.0 352.5 L396.7 352.5 L396.7 352.4 L398.3 352.4 L398.3 352.3 L400.0 352.3 L400.0 352.2 L401.7 352.2 L401.7 351.9 L403.3 351.9 L403.3 351.6 L405.0 351.6 L405.0 351.3 L420.0 351.3 L421.7 351.3 L421.7 350.8 L423.3 350.8 L423.3 350.3 L425.0 350.3 L425.0 349.8 L426.7 349.8 L426.7 349.5 L428.3 349.5 L428.3 349.3 L430.0 349.3 L430.0 349.0 L431.7 349.0 L431.7 348.9 L433.3 348.9 L433.3 348.9 L435.0 348.9 L435.0 348.9 L436.7 348.9 L436.7 348.8 L438.3 348.8 L438.3 348.8 L440.0 348.8 L440.0 348.7 L441.7 348.7 L441.7 348.0 L443.3 348.0 L443.3 347.4 L445.0 347.4 L445.0 346.7 L447.0 346.7 L447.0 345.1 L457.0 345.2 L458.7 345.2 L458.7 344.4 L460.3 344.4 L460.3 343.6 L462.0 343.6 L462.0 342.8 L472.0 342.8 L473.5 342.8 L473.5 341.2 L475.0 341.2 L475.0 339.6 L476.5 339.6 L476.5 339.0 L478.0 339.0 L478.0 338.4 L493.0 338.4 L495.0 338.4 L495.0 337.9 L497.0 337.9 L497.0 337.5 L498.5 337.5 L498.5 337.2 L500.0 337.2 L500.0 337.0 L501.5 337.0 L501.5 336.4 L503.0 336.4 L503.0 335.7 L507.0 335.7" stroke="#111111" stroke-width="1.2" fill="none" stroke-linejoin="round"/>
<path d="M345.0 362.2 L346.7 362.2 L346.7 361.7 L348.3 361.7 L348.3 361.1 L350.0 361.1 L350.0 360.6 L351.7 360.6 L351.7 360.0 L353.3 360.0 L353.3 359.4 L355.0 359.4 L355.0 358.8 L356.7 358.8 L356.7 358.2 L358.3 358.2 L358.3 357.7 L360.0 357.7 L360.0 357.1 L361.7 357.1 L361.7 356.6 L363.3 356.6 L363.3 356.1 L365.0 356.1 L365.0 355.6 L366.7 355.6 L366.7 355.1 L368.3 355.1 L368.3 354.7 L370.0 354.7 L370.0 354.2 L371.7 354.2 L371.7 353.7 L373.3 353.7 L373.3 353.3 L375.0 353.3 L375.0 352.8 L376.5 352.8 L376.5 351.8 L378.0 351.8 L378.0 350.8 L380.0 350.8 L380.0 349.0 L381.7 349.0 L381.7 348.1 L383.3 348.1 L383.3 347.1 L385.0 347.1 L385.0 346.2 L386.7 346.2 L386.7 345.4 L388.3 345.4 L388.3 344.6 L390.0 344.6 L390.0 343.8 L391.7 343.8 L391.7 343.0 L393.3 343.0 L393.3 342.2 L395.0 342.2 L395.0 341.4 L396.7 341.4 L396.7 340.5 L398.3 340.5 L398.3 339.7 L400.0 339.7 L400.0 338.8 L401.7 338.8 L401.7 338.0 L403.3 338.0 L403.3 337.1 L405.0 337.1 L405.0 336.3 L406.7 336.3 L406.7 335.5 L408.3 335.5 L408.3 334.8 L410.0 334.8 L410.0 334.0 L411.7 334.0 L411.7 333.2 L413.3 333.2 L413.3 332.5 L415.0 332.5 L415.0 331.7 L416.7 331.7 L416.7 330.9 L418.3 330.9 L418.3 330.0 L420.0 330.0 L420.0 329.2 L421.5 329.2 L421.5 328.5 L423.0 328.5 L423.0 327.9 L424.8 327.9 L424.8 327.4 L426.5 327.4 L426.5 326.9 L428.2 326.9 L428.2 326.3 L430.0 326.3 L430.0 325.8 L431.7 325.8 L431.7 325.4 L433.3 325.4 L433.3 325.0 L435.0 325.0 L435.0 324.6 L436.7 324.6 L436.7 324.2 L438.3 324.2 L438.3 323.9 L440.0 323.9 L440.0 323.5 L441.7 323.5 L441.7 323.3 L443.3 323.3 L443.3 323.0 L445.0 323.0 L445.0 322.8 L446.7 322.8 L446.7 322.4 L448.3 322.4 L448.3 322.0 L450.0 322.0 L450.0 321.6 L451.7 321.6 L451.7 321.1 L453.3 321.1 L453.3 320.5 L455.0 320.5 L455.0 320.0 L456.7 320.0 L456.7 319.5 L458.3 319.5 L458.3 319.0 L460.0 319.0 L460.0 318.5 L461.7 318.5 L461.7 317.9 L463.3 317.9 L463.3 317.3 L465.0 317.3 L465.0 316.7 L466.7 316.7 L466.7 316.4 L468.3 316.4 L468.3 316.1 L470.0 316.1 L470.0 315.8 L471.7 315.8 L471.7 315.2 L473.3 315.2 L473.3 314.7 L475.0 314.7 L475.0 314.1 L476.7 314.1 L476.7 313.5 L478.3 313.5 L478.3 312.9 L480.0 312.9 L480.0 312.3 L481.7 312.3 L481.7 311.8 L483.3 311.8 L483.3 311.4 L485.0 311.4 L485.0 310.9 L486.7 310.9 L486.7 310.5 L488.3 310.5 L488.3 310.1 L490.0 310.1 L490.0 309.7 L491.7 309.7 L491.7 309.4 L493.3 309.4 L493.3 309.1 L495.0 309.1 L495.0 308.8 L496.7 308.8 L496.7 308.2 L498.3 308.2 L498.3 307.6 L500.0 307.6 L500.0 307.0 L501.7 307.0 L501.7 306.1 L503.3 306.1 L503.3 305.3 L505.0 305.3 L505.0 304.4 L507.0 304.4 L507.0 302.1" stroke="#ac5474" stroke-width="1.15" fill="none" stroke-linejoin="round"/>
</svg>
</body></html>
